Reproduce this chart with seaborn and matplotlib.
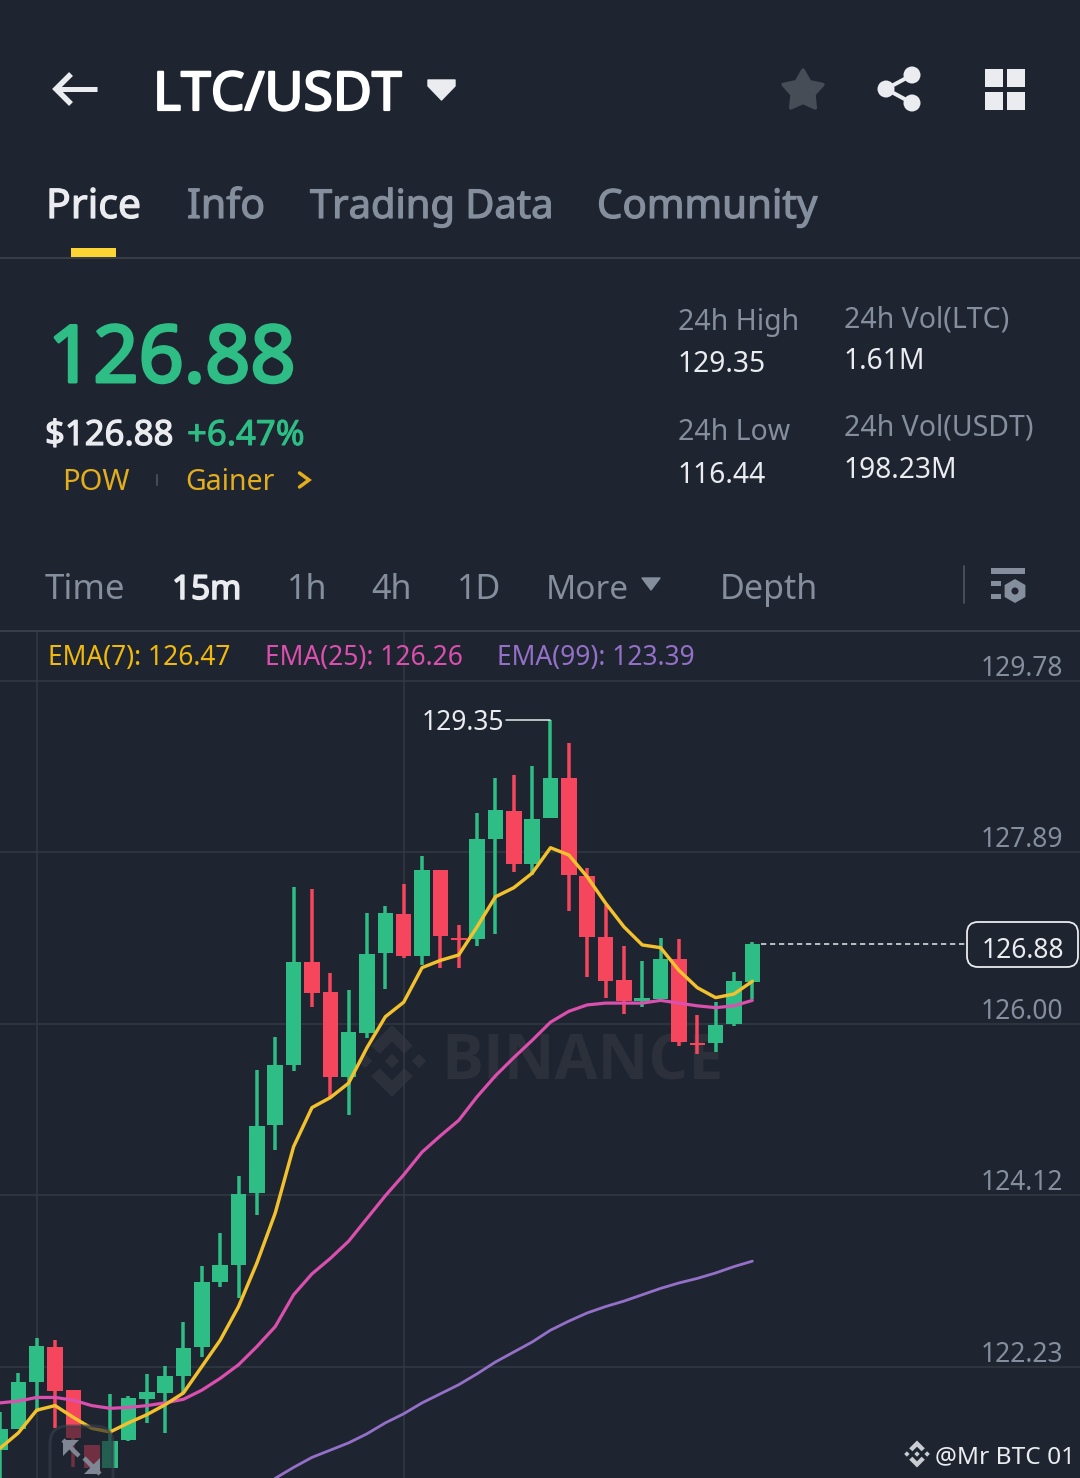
import matplotlib
matplotlib.use("Agg")
import matplotlib.pyplot as plt
from matplotlib.patches import Circle, FancyBboxPatch, Polygon, Rectangle
from matplotlib.patheffects import withStroke
import numpy as np
import pandas as pd
import seaborn as sns

# candles, one per 15m, oldest first
opens = [121.31, 121.54, 122.06, 122.45, 121.97, 121.37, 121.11, 121.42, 121.87, 121.94,
         122.13, 122.45, 123.16, 123.35, 124.14, 124.89, 125.55, 126.68, 126.35, 125.42,
         125.90, 126.78, 127.21, 126.75, 127.69, 126.95, 126.94, 128.04, 128.34, 127.76,
         128.27, 128.71, 127.63, 126.96, 126.48, 126.25, 126.28, 126.72, 125.79, 125.79,
         126.00, 126.46]
closes = [121.54, 122.06, 122.46, 121.96, 121.44, 121.11, 121.41, 121.88, 121.95, 122.13,
          122.43, 123.16, 123.35, 124.13, 124.88, 125.55, 126.68, 126.34, 125.42, 125.91,
          126.77, 127.22, 126.75, 127.69, 126.97, 126.92, 128.04, 128.36, 127.76, 128.26,
          128.71, 127.64, 126.96, 126.47, 126.25, 126.29, 126.72, 125.80, 125.77, 125.99,
          126.47, 126.88]
highs = [121.73, 122.16, 122.54, 122.52, 121.97, 121.37, 121.93, 121.91, 122.15, 122.24,
         122.72, 123.34, 123.70, 124.33, 125.49, 125.86, 127.51, 127.49, 126.56, 126.37,
         127.22, 127.30, 127.54, 127.85, 127.69, 127.09, 128.32, 128.71, 128.74, 128.84,
         129.35, 129.09, 127.72, 127.31, 126.86, 126.69, 126.95, 126.94, 126.10, 126.24,
         126.57, 126.90]
lows = [120.87, 121.54, 121.73, 121.55, 121.12, 121.07, 121.11, 121.41, 121.61, 121.50,
        121.94, 122.34, 123.11, 122.98, 123.90, 124.61, 125.48, 126.19, 125.19, 125.00,
        125.85, 126.39, 126.73, 126.65, 126.62, 126.62, 126.86, 126.99, 127.67, 127.64,
        128.27, 127.24, 126.52, 126.29, 126.11, 126.19, 126.28, 125.76, 125.67, 125.69,
        125.98, 126.28]

ema7 = [121.33, 121.50, 121.75, 121.80, 121.67, 121.55, 121.51, 121.61, 121.70, 121.81,
        121.94, 122.23, 122.52, 122.89, 123.37, 123.92, 124.65, 125.08, 125.19, 125.35,
        125.74, 126.08, 126.24, 126.62, 126.70, 126.76, 127.07, 127.40, 127.50, 127.66,
        127.94, 127.86, 127.62, 127.33, 127.07, 126.87, 126.84, 126.59, 126.40, 126.29,
        126.33, 126.47]
ema25 = [121.83, 121.85, 121.89, 121.89, 121.86, 121.80, 121.77, 121.78, 121.80, 121.83,
         121.87, 121.97, 122.10, 122.25, 122.45, 122.67, 123.02, 123.25, 123.42, 123.61,
         123.86, 124.11, 124.34, 124.59, 124.77, 124.94, 125.20, 125.43, 125.63, 125.82,
         126.02, 126.14, 126.21, 126.23, 126.23, 126.23, 126.26, 126.23, 126.20, 126.18,
         126.20, 126.26]
# the 99 line only enters the window at candle 15
ema99 = [121.00, 121.12, 121.23, 121.31, 121.39, 121.49, 121.61, 121.71, 121.83, 121.93,
         122.03, 122.15, 122.28, 122.39, 122.50, 122.63, 122.73, 122.82, 122.89, 122.95,
         123.02, 123.09, 123.15, 123.20, 123.26, 123.33, 123.39]

price_ticks = [129.78, 127.89, 126.00, 124.12, 122.23]
grid_candles = [2, 22]

BG = "#1E2430"
GREEN = "#2EBD85"
RED = "#F6465D"
YELLOW = "#F0B90B"
GOLD = "#E2AE1E"
LINE_YELLOW = "#F3C12E"
PINK = "#DB4FAE"
PURPLE = "#9470C8"
WHITE = "#EAECEF"
GRAY = "#848E9C"
DARK = "#474D57"
RULE = "#343A43"
MARK = "#2C303B"

W, H = 1080, 1478
PX = 0.72  # one pixel in points at dpi 100
CHART_TOP = 631
PX_PER_CANDLE = 18.35
PX_PER_UNIT = 90.86

sns.set_theme(style="dark", rc={"axes.facecolor": BG, "figure.facecolor": BG})
plt.rcParams["font.family"] = ["Noto Sans", "DejaVu Sans"]

fig = plt.figure(figsize=(W / 100, H / 100), dpi=100)


def pixel_axes(zorder):
    ax = fig.add_axes([0, 0, 1, 1], zorder=zorder)
    ax.set_xlim(0, W)
    ax.set_ylim(H, 0)
    ax.axis("off")
    ax.patch.set_alpha(0)
    return ax


def label(ax, x, y, s, size, color, heavy=0, ha="left", **kw):
    # only the regular cut is there, heavy thickens it by that many pixels
    t = ax.text(x, y, s, fontsize=size, color=color, ha=ha, va="baseline", **kw)
    if heavy:
        t.set_path_effects([withStroke(linewidth=heavy * PX, foreground=color)])
    return t


def logo(ax, cx, cy, r, color):
    for dx in (-0.75, 0, 0.75):
        d = 0.2
        ax.add_patch(Polygon([(cx + (dx - d) * r, cy), (cx + dx * r, cy - d * r),
                              (cx + (dx + d) * r, cy), (cx + dx * r, cy + d * r)],
                             color=color, lw=0))
    for sign in (-1, 1):
        pts = [(0, 1), (0.58, 0.42), (0.34, 0.2), (0, 0.54), (-0.34, 0.2), (-0.58, 0.42)]
        ax.add_patch(Polygon([(cx + a * r, cy + sign * b * r) for a, b in pts], color=color, lw=0))


under = pixel_axes(0)

# watermark sits under the candles
logo(under, 392, 1061, 36, MARK)
under.text(441, 1080, "BINANCE", fontsize=45, color=MARK, family="Open Sans", fontweight="bold",
           ha="left", va="baseline")

# chart axes, same pixel scale as the screenshot
chart = fig.add_axes([0, 0, 1, (H - CHART_TOP) / H], zorder=1)
chart.patch.set_alpha(0)
chart.set_xlim(0, W / PX_PER_CANDLE)
chart.set_ylim(126.0 - (H - 1024) / PX_PER_UNIT, 126.0 + (1024 - CHART_TOP) / PX_PER_UNIT)
chart.set_xticks(grid_candles)
chart.set_yticks(price_ticks)
chart.tick_params(length=0, labelbottom=False, labelleft=False)
chart.grid(True, color=RULE, lw=1.5 * PX)
chart.set_axisbelow(True)
for s in chart.spines.values():
    s.set_visible(False)

idx = np.arange(len(opens))
candles = pd.DataFrame({"open": opens, "close": closes, "high": highs, "low": lows, "i": idx})
candles["color"] = np.where(candles["close"] >= candles["open"], GREEN, RED)

chart.vlines(candles["i"], candles["low"], candles["high"], colors=candles["color"], lw=3.5 * PX, zorder=2)
chart.bar(candles["i"], candles["close"] - candles["open"], bottom=candles["open"], width=0.85,
          color=candles["color"], lw=0, zorder=3)

sns.lineplot(x=idx, y=ema7, ax=chart, color=LINE_YELLOW, lw=3.4 * PX, errorbar=None, zorder=6)
sns.lineplot(x=idx, y=ema25, ax=chart, color=PINK, lw=3.2 * PX, errorbar=None, zorder=5)
sns.lineplot(x=idx[15:], y=ema99, ax=chart, color=PURPLE, lw=2.8 * PX, errorbar=None, zorder=5)
chart.set_xlabel("")
chart.set_ylabel("")
chart.set_xlim(0, W / PX_PER_CANDLE)

# price scale labels, sitting just above their grid lines
for p in price_ticks:
    chart.annotate(f"{p:.2f}", xy=(1, p), xycoords=("axes fraction", "data"), xytext=(-17, 5),
                   textcoords="offset pixels", ha="right", va="baseline", fontsize=19, color=GRAY)

# high marker and last price line
top = int(np.argmax(highs))
chart.plot([top - 2.45, top], [highs[top], highs[top]], color=WHITE, lw=1.5 * PX, zorder=6)
chart.annotate(f"{highs[top]:.2f}", xy=(top - 2.5, highs[top]), xytext=(0, -10), textcoords="offset pixels",
               ha="right", va="baseline", fontsize=19, color=WHITE)
chart.plot([41.45, 52.6], [closes[-1], closes[-1]], color=WHITE, lw=1.5 * PX, ls=(0, (3.5, 2.5)), zorder=6)

over = pixel_axes(2)

# expand button lying over the oldest candles
over.add_patch(FancyBboxPatch((50, 1426), 63, 80, boxstyle="round,pad=0,rounding_size=18",
                              fc=BG, ec="#3A404B", lw=3 * PX, alpha=0.62))
for tip, tail, corner in [((63, 1440), (79, 1456), 1), ((100, 1474), (84, 1458), -1)]:
    over.plot([tail[0], tip[0]], [tail[1], tip[1]], color="#7F8794", lw=4.5 * PX, solid_capstyle="butt")
    over.add_patch(Polygon([tip, (tip[0] + corner * 16, tip[1]), (tip[0], tip[1] + corner * 16)], color="#7F8794", lw=0))

# header
over.plot([97, 58], [89, 89], color=WHITE, lw=5 * PX, solid_capstyle="butt")
over.plot([71, 56, 71], [74, 89, 104], color=WHITE, lw=5.5 * PX, solid_capstyle="butt", solid_joinstyle="miter")
label(over, 153, 110, "LTC/USDT", 38.5, "white", heavy=2.2)
over.add_patch(Polygon([(428, 80), (455, 80), (455, 86), (441.5, 100), (428, 86)], color=WHITE, lw=1, joinstyle="round"))

angles = np.deg2rad(np.arange(10) * 36 - 90)
radii = np.where(np.arange(10) % 2 == 0, 21, 11.5)
over.add_patch(Polygon(np.c_[803 + radii * np.cos(angles), 91 + radii * np.sin(angles)],
                       fc=DARK, ec=DARK, lw=2.5, joinstyle="round"))

over.plot([912, 886, 912], [75, 89, 103], color=WHITE, lw=4 * PX)
for cx, cy, r in [(912, 75, 8.5), (886, 89, 8.5), (912, 103, 8.5)]:
    over.add_patch(Circle((cx, cy), r, color=WHITE, lw=0))
for x0 in (985, 1007):
    for y0 in (69, 92):
        over.add_patch(Rectangle((x0, y0), 18, 17.5, color=WHITE, lw=0))

# tabs
label(over, 46, 218, "Price", 29.5, WHITE, heavy=1.2)
label(over, 187, 218, "Info", 29.5, GRAY, heavy=1.2)
label(over, 310, 218, "Trading Data", 28.7, GRAY, heavy=1.2)
label(over, 597, 218, "Community", 29, GRAY, heavy=1.2)
over.plot([0, W], [258, 258], color="#383E47", lw=2 * PX)
over.add_patch(Rectangle((71, 248), 45, 9, color="#FCD535", lw=0))

# price block
label(over, 48, 382, "126.88", 57, GREEN, heavy=3)
label(over, 45, 445, "$126.88", 25, WHITE, heavy=1.2)
label(over, 187, 445, "+6.47%", 25, GREEN, heavy=1)
label(over, 62, 490, "POW", 21, GOLD)
over.plot([157, 157], [475, 485], color=DARK, lw=2 * PX)
label(over, 185, 490, "Gainer", 20.5, GOLD)
over.plot([299.5, 309, 299.5], [473, 480, 487], color=GOLD, lw=3.5 * PX, solid_joinstyle="miter")

label(over, 678, 330, "24h High", 20.5, GRAY)
label(over, 677, 372, "129.35", 20.3, WHITE)
label(over, 678, 440, "24h Low", 20.5, GRAY)
label(over, 677, 483, "116.44", 20.3, WHITE)
label(over, 844, 327, "24h Vol(LTC)", 20.5, GRAY)
label(over, 843, 369, "1.61M", 20.3, WHITE)
label(over, 844, 436, "24h Vol(USDT)", 20.5, GRAY)
label(over, 843, 478, "198.23M", 20.3, WHITE)

# interval row
label(over, 45, 599, "Time", 25, GRAY)
label(over, 172, 599, "15m", 24, WHITE, heavy=1.6)
label(over, 287, 599, "1h", 24.5, GRAY)
label(over, 371, 599, "4h", 24.5, GRAY)
label(over, 457, 599, "1D", 24.5, GRAY)
label(over, 546, 599, "More", 24, GRAY)
over.add_patch(Polygon([(642, 578), (660, 578), (651, 590)], color=GRAY, lw=1, joinstyle="round"))
label(over, 720, 599, "Depth", 24.5, GRAY)
over.plot([964, 964], [566, 603], color=DARK, lw=2 * PX)
over.add_patch(Rectangle((991, 568), 34, 5.5, color=GRAY, lw=0))
over.add_patch(Rectangle((991, 581), 10, 5, color=GRAY, lw=0))
over.add_patch(Rectangle((991, 594), 10, 5, color=GRAY, lw=0))
hex_angles = np.deg2rad(np.arange(6) * 60 - 90)
over.add_patch(Polygon(np.c_[1015 + 12 * np.cos(hex_angles), 591 + 12 * np.sin(hex_angles)], color=GRAY, lw=0))
over.add_patch(Circle((1015, 591), 3.5, color=BG, lw=0))
over.plot([0, W], [CHART_TOP, CHART_TOP], color="#383E47", lw=2 * PX)

# ema legend
label(over, 48, 665, f"EMA(7): {ema7[-1]:.2f}", 19, YELLOW)
label(over, 265, 665, f"EMA(25): {ema25[-1]:.2f}", 19, PINK)
label(over, 497, 665, f"EMA(99): {ema99[-1]:.2f}", 19, PURPLE)

# last price tag
over.add_patch(FancyBboxPatch((967, 922), 111, 45, boxstyle="round,pad=0,rounding_size=11",
                              fc=BG, ec=WHITE, lw=1.8 * PX))
label(over, 1023, 958, f"{closes[-1]:.2f}", 19, WHITE, ha="center")

# reposter tag
logo(over, 917, 1454, 13.5, "#C9CCD1")
label(over, 935, 1463, "@Mr BTC 01", 17.6, WHITE)

fig.savefig("out.png", dpi=100, facecolor=BG)
